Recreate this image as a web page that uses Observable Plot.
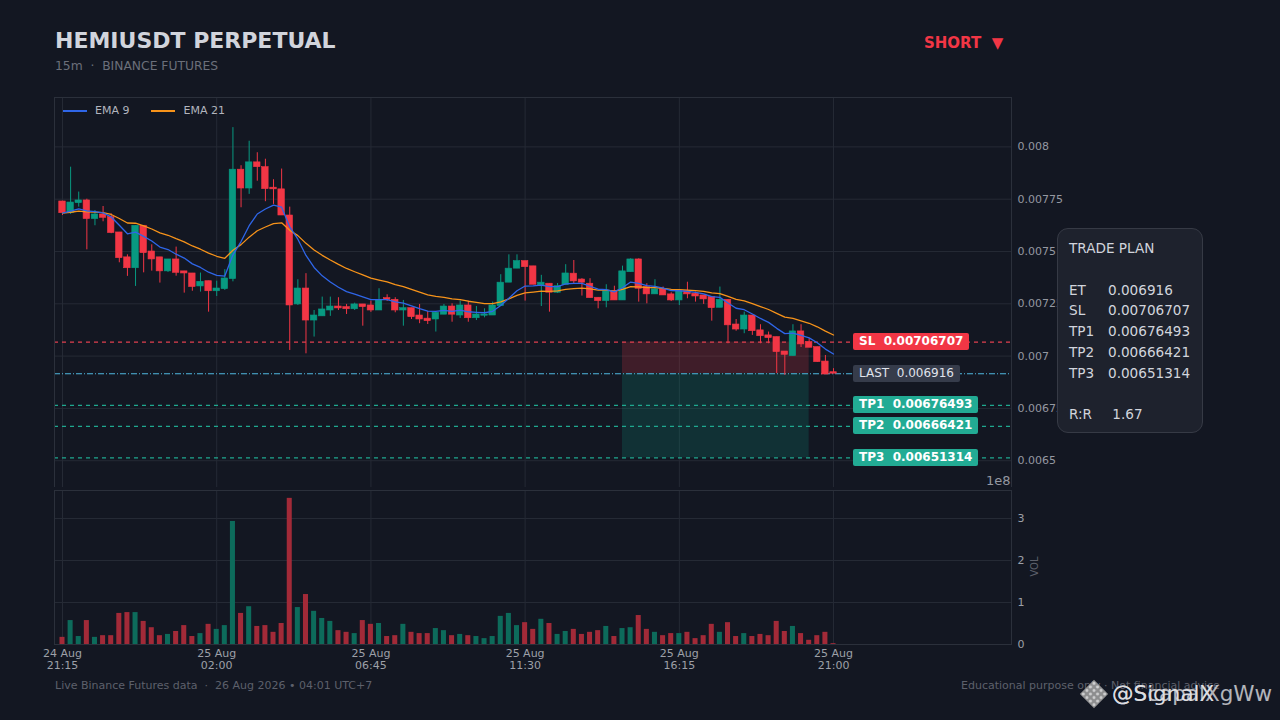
<!DOCTYPE html>
<html>
<head>
<meta charset="utf-8">
<script src="https://cdn.jsdelivr.net/npm/d3@7"></script>
<script src="https://cdn.jsdelivr.net/npm/@observablehq/plot@0.6"></script>
<style>
  html, body { margin:0; padding:0; }
  body { width:1280px; height:720px; background:#131722; position:relative; overflow:hidden; font-family:"DejaVu Sans", sans-serif; }
  .abs { position:absolute; }
  #title { left:55px; top:28px; font-size:22px; font-weight:bold; color:#d1d4dc; line-height:26px; white-space:pre; }
  #subtitle { left:55px; top:58px; font-size:12.3px; color:#6b6f7a; white-space:pre; line-height:16px; }
  #side { left:924px; top:34px; font-size:15px; font-weight:bold; color:#f23645; white-space:pre; line-height:18px; }
  #legend { left:63px; top:104px; font-size:11px; color:#b2b5be; display:flex; align-items:center; line-height:14px; }
  #legend .sw { display:inline-block; width:24px; height:2px; margin-right:8px; }
  .tag { position:absolute; left:853px; height:17px; line-height:17px; font-size:12px; padding:0 6px; border-radius:2px; white-space:pre; }
  #plan { left:1057px; top:228px; width:146px; height:205px; box-sizing:border-box; background:#1e222d; border:1px solid #363a45; border-radius:11px; padding:9px 0 0 11px; font-size:13.6px; line-height:20.75px; color:#d1d4dc; white-space:pre; }
  #plan .k { display:inline-block; width:39px; }
  #foot1 { left:55px; top:679px; font-size:11px; color:#5d606b; white-space:pre; }
  #foot2 { left:961px; top:679px; font-size:11px; color:#5d606b; white-space:pre; }
  #wm1, #wm2 { left:1112px; top:681px; font-size:21.5px; color:#dcdde0; white-space:pre; line-height:26px; }
  #wm2 { opacity:0.8; }
  #wmicon { left:1084px; top:684px; width:20px; height:20px; transform:rotate(45deg); background:
    radial-gradient(circle, #e6e6e6 1.3px, transparent 1.5px) 0 0/5px 5px, #9a9a9a; opacity:0.9; }
  #e8 { left:986px; top:473px; font-size:13px; color:#9598a1; }
  #vollab { left:1024px; top:561px; font-size:10px; color:#5d606b; transform:rotate(-90deg); transform-origin:center; }
</style>
</head>
<body>
<div id="title" class="abs">HEMIUSDT PERPETUAL</div>
<div id="subtitle" class="abs">15m  ·  BINANCE FUTURES</div>
<div id="side" class="abs">SHORT  ▼</div>
<div id="price" class="abs" style="left:0;top:0"></div>
<div id="vol" class="abs" style="left:0;top:480px"></div>
<div id="legend" class="abs"></div>
<div id="tags"></div>
<div id="e8" class="abs">1e8</div>
<div id="vollab" class="abs">VOL</div>
<div id="plan" class="abs"></div>
<div id="foot1" class="abs">Live Binance Futures data  ·  26 Aug 2026 • 04:01 UTC+7</div>
<div id="foot2" class="abs">Educational purpose only · Not financial advice</div>
<div id="wmicon" class="abs"></div>
<div id="wm1" class="abs">@SignalX</div>
<div id="wm2" class="abs">@ScapalXgWw</div>
<script>
// ---- data (15m candles, 24 Aug 21:15 -> 25 Aug 21:00) ----
const open = [
0.007739,0.007683,0.007731,0.007744,0.007655,0.007677,0.007664,0.007591,0.007472,0.007420,
0.007623,0.007500,0.007472,0.007405,0.007462,0.007405,0.007395,0.007333,0.007358,0.007310,
0.007320,0.007368,0.007891,0.007801,0.007926,0.007903,0.007805,0.007797,0.007672,0.007247,
0.007323,0.007170,0.007190,0.007218,0.007237,0.007234,0.007224,0.007247,0.007242,0.007218,
0.007277,0.007269,0.007218,0.007229,0.007194,0.007179,0.007175,0.007198,0.007237,0.007194,
0.007242,0.007181,0.007193,0.007194,0.007239,0.007351,0.007418,0.007454,0.007429,0.007338,
0.007346,0.007303,0.007340,0.007394,0.007366,0.007346,0.007279,0.007263,0.007310,0.007266,
0.007401,0.007462,0.007330,0.007295,0.007319,0.007295,0.007266,0.007310,0.007298,0.007290,
0.007282,0.007231,0.007269,0.007151,0.007127,0.007194,0.007123,0.007099,0.007091,0.007022,
0.007000,0.007118,0.007067,0.007043,0.006974,0.006923];
const high = [
0.007740,0.007903,0.007784,0.007750,0.007696,0.007715,0.007680,0.007591,0.007484,0.007623,
0.007623,0.007532,0.007472,0.007462,0.007521,0.007405,0.007395,0.007397,0.007358,0.007358,
0.007413,0.008092,0.007910,0.008027,0.007972,0.007941,0.007843,0.007894,0.007712,0.007365,
0.007394,0.007218,0.007282,0.007282,0.007279,0.007247,0.007253,0.007247,0.007263,0.007322,
0.007293,0.007279,0.007266,0.007229,0.007247,0.007213,0.007207,0.007247,0.007250,0.007263,
0.007263,0.007237,0.007226,0.007258,0.007389,0.007484,0.007484,0.007454,0.007429,0.007386,
0.007346,0.007347,0.007437,0.007457,0.007370,0.007370,0.007279,0.007341,0.007334,0.007430,
0.007465,0.007465,0.007346,0.007365,0.007330,0.007303,0.007310,0.007353,0.007306,0.007290,
0.007282,0.007330,0.007269,0.007175,0.007210,0.007194,0.007150,0.007115,0.007091,0.007022,
0.007150,0.007150,0.007083,0.007043,0.007003,0.006940];
const low = [
0.007672,0.007677,0.007712,0.007508,0.007623,0.007642,0.007585,0.007446,0.007381,0.007333,
0.007398,0.007406,0.007349,0.007400,0.007382,0.007301,0.007310,0.007306,0.007210,0.007285,
0.007314,0.007355,0.007709,0.007773,0.007836,0.007738,0.007725,0.007672,0.007027,0.007242,
0.007011,0.007091,0.007190,0.007190,0.007218,0.007199,0.007218,0.007143,0.007209,0.007218,
0.007261,0.007207,0.007143,0.007175,0.007155,0.007151,0.007115,0.007198,0.007162,0.007180,
0.007162,0.007170,0.007183,0.007194,0.007239,0.007351,0.007418,0.007263,0.007341,0.007237,
0.007210,0.007299,0.007340,0.007347,0.007287,0.007277,0.007226,0.007231,0.007266,0.007266,
0.007401,0.007258,0.007250,0.007295,0.007290,0.007261,0.007242,0.007274,0.007258,0.007247,
0.007167,0.007231,0.007059,0.007119,0.007107,0.007099,0.007059,0.007059,0.006916,0.006908,
0.007000,0.007041,0.007040,0.006970,0.006912,0.006916];
const close = [
0.007683,0.007734,0.007744,0.007655,0.007677,0.007661,0.007588,0.007468,0.007420,0.007623,
0.007492,0.007462,0.007405,0.007462,0.007398,0.007395,0.007330,0.007355,0.007310,0.007323,
0.007371,0.007891,0.007801,0.007926,0.007903,0.007798,0.007797,0.007672,0.007242,0.007323,
0.007170,0.007194,0.007223,0.007237,0.007228,0.007224,0.007247,0.007234,0.007218,0.007269,
0.007269,0.007218,0.007229,0.007186,0.007175,0.007167,0.007207,0.007237,0.007198,0.007242,
0.007181,0.007199,0.007199,0.007242,0.007351,0.007418,0.007454,0.007425,0.007341,0.007351,
0.007303,0.007334,0.007395,0.007357,0.007351,0.007277,0.007263,0.007310,0.007266,0.007405,
0.007462,0.007322,0.007295,0.007319,0.007290,0.007266,0.007310,0.007295,0.007285,0.007271,
0.007229,0.007269,0.007147,0.007127,0.007194,0.007119,0.007095,0.007086,0.007019,0.007006,
0.007118,0.007056,0.007040,0.006971,0.006912,0.006916];
const volume = [
0.17e8,0.57e8,0.19e8,0.57e8,0.17e8,0.21e8,0.21e8,0.74e8,0.76e8,0.76e8,
0.55e8,0.40e8,0.21e8,0.24e8,0.31e8,0.45e8,0.19e8,0.26e8,0.48e8,0.36e8,
0.45e8,2.93e8,0.74e8,0.90e8,0.43e8,0.45e8,0.29e8,0.50e8,3.48e8,0.88e8,
1.19e8,0.79e8,0.62e8,0.55e8,0.33e8,0.29e8,0.26e8,0.57e8,0.48e8,0.50e8,
0.19e8,0.21e8,0.48e8,0.29e8,0.26e8,0.26e8,0.38e8,0.33e8,0.21e8,0.24e8,
0.21e8,0.19e8,0.14e8,0.19e8,0.67e8,0.74e8,0.45e8,0.52e8,0.36e8,0.60e8,
0.50e8,0.24e8,0.31e8,0.36e8,0.24e8,0.29e8,0.33e8,0.43e8,0.19e8,0.38e8,
0.40e8,0.69e8,0.36e8,0.29e8,0.21e8,0.26e8,0.26e8,0.29e8,0.14e8,0.21e8,
0.48e8,0.29e8,0.52e8,0.19e8,0.26e8,0.19e8,0.24e8,0.21e8,0.55e8,0.31e8,
0.43e8,0.26e8,0.10e8,0.21e8,0.29e8,0.02e8];

const tickIdx = [0, 19, 38, 57, 76, 95];
const tickLabels = ["24 Aug\n21:15", "25 Aug\n02:00", "25 Aug\n06:45", "25 Aug\n11:30", "25 Aug\n16:15", "25 Aug\n21:00"];
const priceTicks = [0.0065, 0.00675, 0.007, 0.00725, 0.0075, 0.00775, 0.008];
const volTicks = [0, 1e8, 2e8, 3e8];

const ENTRY = 0.006916, SL = 0.00706707, TP1 = 0.00676493, TP2 = 0.00666421, TP3 = 0.00651314, RR = 1.67;
const zoneStart = 69, zoneEnd = 92;   // candle indices spanned by the trade zone

// ---- styles ----
const UP = "#089981", DN = "#f23645", UPV = "#0d6b5b", DNV = "#a22a38";
const GRID = "#252a35", FRAME = "#2b303b";
const FONT = "DejaVu Sans";

// ---- derived ----
function ema(src, n) {
  const a = 2 / (n + 1); const out = [];
  src.forEach((v, i) => out.push(i === 0 ? v : a * v + (1 - a) * out[i - 1]));
  return out;
}
const ema9 = ema(close, 9), ema21 = ema(close, 21);
const candles = close.map((c, i) => ({i, o: open[i], h: high[i], l: low[i], c, v: volume[i], up: c >= open[i], e9: ema9[i], e21: ema21[i]}));

const xDomain = [-0.986, 116.93];

const price = Plot.plot({
  width: 1280, height: 487,
  marginTop: 97, marginBottom: 0, marginLeft: 54, marginRight: 269,
  style: {background: "transparent", color: "#9598a1", fontFamily: FONT, fontSize: "11px"},
  x: {domain: xDomain, axis: null},
  y: {domain: [0.006372, 0.008236], label: null},
  marks: [
    Plot.gridY(priceTicks, {stroke: GRID, strokeOpacity: 1}),
    Plot.gridX(tickIdx, {stroke: GRID, strokeOpacity: 1}),
    Plot.rect([{a: zoneStart, b: zoneEnd, y1: SL, y2: ENTRY}], {x1: "a", x2: "b", y1: "y1", y2: "y2", fill: DN, fillOpacity: 0.2}),
    Plot.rect([{a: zoneStart, b: zoneEnd, y1: ENTRY, y2: TP3}], {x1: "a", x2: "b", y1: "y1", y2: "y2", fill: UP, fillOpacity: 0.2}),
    Plot.ruleY([SL], {stroke: "#e0404f", strokeWidth: 1.2, strokeDasharray: "4,4"}),
    Plot.ruleY([TP1, TP2, TP3], {stroke: "#1fa88f", strokeWidth: 1.2, strokeDasharray: "4,4"}),
    Plot.ruleY([ENTRY], {stroke: "#4fb8e0", strokeWidth: 1.1, strokeDasharray: "6,2,1,2"}),
    Plot.ruleX(candles, {x: "i", y1: "l", y2: "h", stroke: d => d.up ? UP : DN, strokeWidth: 1}),
    Plot.rect(candles, {x1: d => d.i - 0.4, x2: d => d.i + 0.4, y1: "o", y2: "c", fill: d => d.up ? UP : DN, stroke: d => d.up ? UP : DN, strokeWidth: 0.6}),
    Plot.line(candles, {x: "i", y: "e21", stroke: "#f7931a", strokeWidth: 1.3}),
    Plot.line(candles, {x: "i", y: "e9", stroke: "#2f66e8", strokeWidth: 1.3}),
    Plot.frame({stroke: FRAME}),
    Plot.axisY(priceTicks, {anchor: "right", tickSize: 0, tickPadding: 6, tickFormat: d => String(d), fontSize: 11, label: null})
  ]
});
document.getElementById("price").append(price);

const vol = Plot.plot({
  width: 1280, height: 200,
  marginTop: 10, marginBottom: 36, marginLeft: 54, marginRight: 269,
  style: {background: "transparent", color: "#9da0a8", fontFamily: FONT, fontSize: "11px"},
  x: {domain: xDomain},
  y: {domain: [0, 3.667e8], label: null},
  marks: [
    Plot.gridY(volTicks.slice(1), {stroke: GRID, strokeOpacity: 1}),
    Plot.gridX(tickIdx, {stroke: GRID, strokeOpacity: 1}),
    Plot.rectY(candles, {x1: d => d.i - 0.31, x2: d => d.i + 0.31, y: "v", fill: d => d.up ? UPV : DNV}),
    Plot.frame({stroke: FRAME}),
    Plot.axisY(volTicks, {anchor: "right", tickSize: 0, tickPadding: 6, tickFormat: d => String(d / 1e8), fontSize: 11, label: null}),
    Plot.axisX(tickIdx, {anchor: "bottom", tickSize: 0, tickPadding: 4, tickFormat: i => tickLabels[tickIdx.indexOf(i)], fontSize: 11, lineHeight: 1.1, label: null})
  ]
});
document.getElementById("vol").append(vol);

// legend
const legend = document.getElementById("legend");
[["EMA 9", "#2f66e8"], ["EMA 21", "#f7931a"]].forEach(([t, c], k) => {
  const s = document.createElement("span"); s.className = "sw"; s.style.background = c;
  const l = document.createElement("span"); l.textContent = t; l.style.marginRight = k === 0 ? "22px" : "0";
  legend.append(s, l);
});

// price tags positioned by the y scale
const ys = price.scale("y");
const tags = [
  ["SL  " + SL, SL, DN, "#fff", true],
  ["LAST  " + ENTRY, ENTRY, "#363c4b", "#e0e3eb", false],
  ["TP1  " + TP1, TP1, "#22ab94", "#fff", true],
  ["TP2  " + TP2, TP2, "#22ab94", "#fff", true],
  ["TP3  " + TP3, TP3, "#22ab94", "#fff", true]
];
const tagBox = document.getElementById("tags");
tags.forEach(([t, v, bg, fg, bold]) => {
  const d = document.createElement("div"); d.className = "tag";
  d.textContent = t; d.style.background = bg; d.style.color = fg;
  d.style.fontWeight = bold ? "bold" : "normal";
  d.style.top = (ys.apply(v) - 8.5) + "px";
  tagBox.append(d);
});

// trade plan
const plan = document.getElementById("plan");
const rows = [["TRADE PLAN", ""], ["", ""], ["ET", ENTRY], ["SL", SL], ["TP1", TP1], ["TP2", TP2], ["TP3", TP3], ["", ""], ["R:R", RR]];
plan.innerHTML = rows.map(([k, v]) => k === "TRADE PLAN" ? k : (k ? `<span class="k">${k}</span>${k === "R:R" ? " " : ""}${v}` : " ")).join("\n");
</script>
</body>
</html>
